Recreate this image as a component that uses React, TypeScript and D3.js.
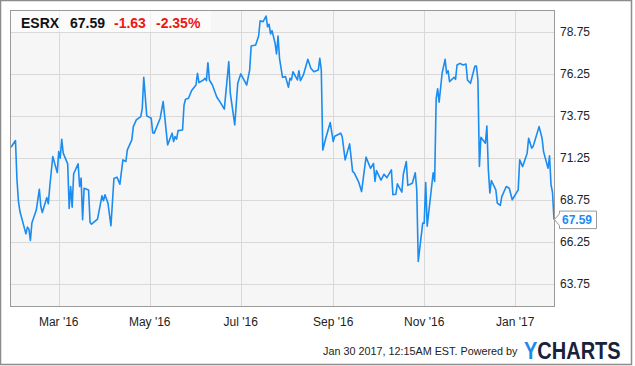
import React from "react";
import * as d3 from "d3";

const dates: string[] = [
  "2016-01-29","2016-02-01","2016-02-02","2016-02-03","2016-02-04","2016-02-08","2016-02-09","2016-02-10","2016-02-11","2016-02-12",
  "2016-02-15","2016-02-17","2016-02-18","2016-02-19","2016-02-22","2016-02-23","2016-02-24","2016-02-26","2016-02-29","2016-03-01",
  "2016-03-02","2016-03-03","2016-03-04","2016-03-07","2016-03-08","2016-03-09","2016-03-10","2016-03-11","2016-03-14","2016-03-15",
  "2016-03-16","2016-03-17","2016-03-18","2016-03-21","2016-03-22","2016-03-23","2016-03-27","2016-03-30","2016-03-31","2016-04-01",
  "2016-04-03","2016-04-05","2016-04-07","2016-04-09","2016-04-11","2016-04-13","2016-04-15","2016-04-16","2016-04-19","2016-04-20",
  "2016-04-22","2016-04-25","2016-04-26","2016-04-27","2016-04-29","2016-05-02","2016-05-03","2016-05-04","2016-05-08","2016-05-10",
  "2016-05-13","2016-05-16","2016-05-17","2016-05-18","2016-05-19","2016-05-20","2016-05-23","2016-05-24","2016-05-25","2016-05-27",
  "2016-05-29","2016-06-01","2016-06-02","2016-06-03","2016-06-06","2016-06-07","2016-06-08","2016-06-09","2016-06-10","2016-06-12",
  "2016-06-15","2016-06-17","2016-06-20","2016-06-23","2016-06-24","2016-06-27","2016-06-29","2016-07-01","2016-07-05","2016-07-07",
  "2016-07-08","2016-07-11","2016-07-13","2016-07-14","2016-07-16","2016-07-18","2016-07-19","2016-07-20","2016-07-21","2016-07-22",
  "2016-07-24","2016-07-25","2016-07-26","2016-07-27","2016-07-29","2016-07-31","2016-08-02","2016-08-03","2016-08-04","2016-08-05",
  "2016-08-08","2016-08-09","2016-08-10","2016-08-12","2016-08-15","2016-08-17","2016-08-19","2016-08-22","2016-08-23","2016-08-24",
  "2016-08-25","2016-08-27","2016-08-30","2016-09-01","2016-09-02","2016-09-06","2016-09-07","2016-09-09","2016-09-12","2016-09-14",
  "2016-09-15","2016-09-18","2016-09-20","2016-09-23","2016-09-26","2016-09-28","2016-09-29","2016-09-30","2016-10-03","2016-10-05",
  "2016-10-07","2016-10-10","2016-10-11","2016-10-13","2016-10-14","2016-10-17","2016-10-18","2016-10-20","2016-10-21","2016-10-24",
  "2016-10-26","2016-10-27","2016-10-28","2016-10-31","2016-11-01","2016-11-02","2016-11-03","2016-11-07","2016-11-08","2016-11-09",
  "2016-11-10","2016-11-11","2016-11-13","2016-11-15","2016-11-16","2016-11-17","2016-11-18","2016-11-21","2016-11-22","2016-11-23",
  "2016-11-25","2016-11-27","2016-11-29","2016-11-30","2016-12-02","2016-12-05","2016-12-06","2016-12-07","2016-12-08","2016-12-09",
  "2016-12-12","2016-12-13","2016-12-14","2016-12-15","2016-12-16","2016-12-19","2016-12-20","2016-12-22","2016-12-23","2016-12-26",
  "2016-12-28","2016-12-30","2017-01-03","2017-01-04","2017-01-06","2017-01-09","2017-01-10","2017-01-12","2017-01-13","2017-01-17",
  "2017-01-19","2017-01-20","2017-01-23","2017-01-24","2017-01-25","2017-01-26","2017-01-27",
];

const prices: number[] = [
  71.90,72.30,69.96,68.67,68.07,66.74,67.14,67.02,66.35,67.38,
  68.17,69.40,68.37,68.01,68.90,68.53,69.56,71.35,70.39,71.64,
  71.25,72.38,71.55,70.91,68.25,69.56,68.33,70.32,70.91,69.56,
  70.06,67.58,69.46,69.36,67.42,67.32,67.62,69.01,68.71,69.07,
  68.57,67.22,70.04,70.12,69.70,71.15,71.05,71.74,72.34,73.13,
  73.53,73.73,74.23,76.07,73.77,73.63,72.77,72.74,73.63,74.62,
  72.04,72.74,72.24,72.54,72.38,72.89,72.93,74.42,74.76,74.82,
  75.27,75.61,76.31,75.75,75.91,76.01,75.87,76.94,75.91,75.61,
  74.88,74.62,74.17,77.00,75.12,73.23,75.71,76.27,75.61,76.51,
  77.93,77.99,78.53,79.44,79.38,79.72,79.08,79.23,78.65,78.85,
  78.10,77.46,78.53,77.20,76.07,76.11,75.48,76.01,75.91,76.40,
  75.91,76.46,75.87,76.21,77.14,76.61,76.40,76.51,77.20,76.51,
  71.74,72.44,73.37,72.24,72.56,72.74,72.54,71.15,72.10,70.45,
  70.39,69.84,69.26,71.31,70.65,70.93,69.86,70.51,69.94,70.29,
  70.09,70.55,69.07,69.10,69.72,69.23,70.29,71.05,69.63,69.76,
  70.38,69.36,65.10,67.38,67.38,69.80,67.20,70.38,69.86,74.79,
  75.39,74.59,76.31,77.14,76.31,76.46,75.81,76.07,75.95,76.80,
  76.90,76.80,76.86,75.91,75.71,76.74,76.74,75.91,70.75,72.50,
  72.14,73.17,70.55,69.17,69.92,69.36,68.57,68.43,68.96,69.56,
  69.46,68.77,69.36,71.15,70.75,71.55,72.44,71.85,71.94,73.13,
  72.44,71.64,70.65,71.39,69.66,69.22,67.59,
];

const yTicks: number[] = [63.75, 66.25, 68.75, 71.25, 73.75, 76.25, 78.75];
const xTickDates: string[] = ["2016-03-01", "2016-05-01", "2016-07-01", "2016-09-01", "2016-11-01", "2017-01-01"];

const ticker = "ESRX";
const lastPrice = "67.59";
const change = "-1.63";
const changePct = "-2.35%";
const footerText = "Jan 30 2017, 12:15AM EST. Powered by";

const W = 635;
const H = 366;
const plot = { left: 11, right: 554, top: 11, bottom: 306 };
const LINE = "#1b8cf0";
const FONT = "'Liberation Sans', Arial, sans-serif";

export default function App() {
  const parse = d3.timeParse("%Y-%m-%d");
  const data = dates.map((d, i) => ({ date: parse(d) as Date, value: prices[i] }));
  const x = d3
    .scaleTime()
    .domain(d3.extent(data, (d) => d.date) as [Date, Date])
    .range([plot.left, plot.right]);
  const y = d3.scaleLinear().domain([62.44, 80.02]).range([plot.bottom, plot.top]);
  const line = d3
    .line<{ date: Date; value: number }>()
    .x((d) => x(d.date))
    .y((d) => y(d.value));
  const fmt = d3.timeFormat("%b '%y");
  const xt = xTickDates.map((s) => parse(s) as Date);
  const last = data[data.length - 1];
  const ly = y(last.value);

  return (
    <svg
      width={W}
      height={H}
      style={{ position: "absolute", left: 0, top: 0, background: "#fff" }}
      fontFamily={FONT}
    >
      <rect x={0.5} y={0.5} width={W - 4} height={H - 2} fill="#fff" stroke="#8c8c8c" strokeWidth={1.5} />
      <rect
        x={plot.left}
        y={plot.top}
        width={plot.right - plot.left}
        height={plot.bottom - plot.top}
        fill="#f6f6f6"
      />
      {yTicks.map((t) => (
        <line key={"gy" + t} x1={plot.left} x2={plot.right} y1={Math.round(y(t)) + 0.5} y2={Math.round(y(t)) + 0.5} stroke="#d9d9d9" />
      ))}
      {xt.map((d, i) => (
        <line key={"gx" + i} x1={Math.round(x(d)) + 0.5} x2={Math.round(x(d)) + 0.5} y1={plot.top} y2={plot.bottom} stroke="#d9d9d9" />
      ))}
      <rect x={plot.left} y={plot.top} width={200} height={21} fill="#ffffff" opacity={0.6} />
      <path d={line(data) || ""} fill="none" stroke={LINE} strokeWidth={1.6} strokeLinejoin="round" />
      <rect
        x={plot.left - 0.5}
        y={plot.top - 0.5}
        width={plot.right - plot.left + 1}
        height={plot.bottom - plot.top + 1}
        fill="none"
        stroke="#9a9a9a"
      />
      {yTicks.map((t) => (
        <text key={"ty" + t} x={560} y={y(t) + 4} fontSize={12} fill="#222">
          {t.toFixed(2)}
        </text>
      ))}
      {xt.map((d, i) => (
        <text key={"tx" + i} x={x(d)} y={326} fontSize={12} fill="#222" textAnchor="middle">
          {fmt(d)}
        </text>
      ))}
      <g fontSize={14} fontWeight="bold">
        <text x={21} y={28} fill="#111">{ticker}</text>
        <text x={70} y={28} fill="#111">{lastPrice}</text>
        <text x={114} y={28} fill="#f01414">{change}</text>
        <text x={156} y={28} fill="#f01414">{changePct}</text>
      </g>
      <path
        d={`M${plot.right + 0.5},${ly} L${plot.right + 5.5},${ly - 6} L${plot.right + 5.5},${ly - 8.5} L${plot.right + 42.5},${ly - 8.5} L${plot.right + 42.5},${ly + 9} L${plot.right + 5.5},${ly + 9} L${plot.right + 5.5},${ly + 6} Z`}
        fill="#fff"
        stroke="#9a9a9a"
      />
      <text x={plot.right + 8} y={ly + 4.5} fontSize={12} fontWeight="bold" fill={LINE}>
        {lastPrice}
      </text>
      <text x={323} y={355} fontSize={10.8} fill="#222">
        {footerText}
      </text>
      <g transform="translate(524,359) scale(1,1.2)">
        <text x={0} y={0} fontSize={20} fontWeight="bold">
          <tspan fill="#1e8ae8">Y</tspan>
          <tspan fill="#17223b">CHARTS</tspan>
        </text>
      </g>
    </svg>
  );
}
